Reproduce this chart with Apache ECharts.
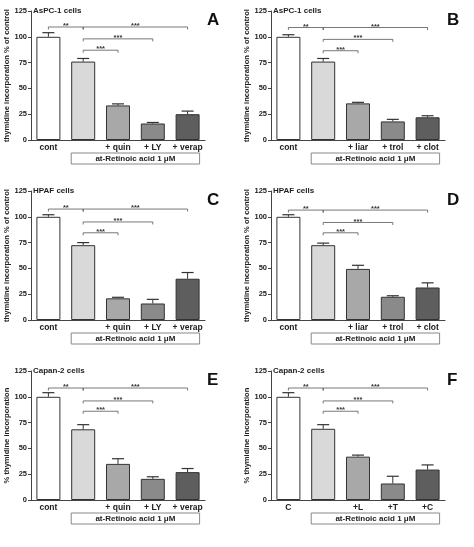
<!DOCTYPE html>
<html>
<head>
<meta charset="utf-8">
<script src="https://cdn.jsdelivr.net/npm/echarts@6/dist/echarts.min.js"></script>
<style>
  html, body { margin: 0; padding: 0; background: #fff; }
  #chart { width: 474px; height: 547px; }
</style>
</head>
<body>
<div id="chart"></div>
<script>
// categories
var catsLeft = ['cont', '', '+ quin', '+ LY', '+ verap'];
var catsRight = ['cont', '', '+ liar', '+ trol', '+ clot'];
var catsF = ['C', '', '+L', '+T', '+C'];
var yTicks = [0, 25, 50, 75, 100, 125];

// bar heights (% of control) and upper error (SEM)
var meanA = [100, 76, 33.5, 16, 25];
var errA = [4, 3, 1.5, 1, 3];
var meanB = [100, 76, 35.5, 18, 22];
var errB = [2, 3, 1, 2, 1.5];
var meanC = [100, 72.5, 21, 16, 40];
var errC = [2, 2.5, 1, 4, 6];
var meanD = [100, 72.5, 49.5, 22.5, 31.5];
var errD = [2, 2, 3.5, 1, 4.5];
var meanE = [100, 68.5, 35, 20.5, 27];
var errE = [4, 4.5, 5, 2, 3.5];
var meanF = [100, 69, 42, 16, 29.5];
var errF = [4, 4, 1.5, 7, 4.5];

// heights of the significance brackets (top, middle, bottom)
var sigA = [109.5, 98, 87];
var sigB = [109, 97.5, 86.5];
var sigC = [107.5, 95, 84.5];
var sigD = [106.5, 94.5, 84.5];
var sigE = [108.5, 96, 86];
var sigF = [108.5, 96, 86];

// bracket pairs: from, to, level, stars
var pairFrom = [0, 1, 1, 1];
var pairTo = [1, 4, 3, 2];
var pairLevel = [0, 0, 1, 2];
var pairStars = ['**', '***', '***', '***'];

var barColors = ['#ffffff', '#d9d9d9', '#a8a8a8', '#8a8a8a', '#5e5e5e'];
var ylabCtrl = 'thymidine incorporation % of control';
var ylabPct = '% thymidine incorporation';
var boxText = 'at-Retinoic acid 1 \u03bcM';

var panels = [
  { cats: catsLeft, mean: meanA, err: errA, sig: sigA, cell: 'AsPC-1 cells', letter: 'A', ylab: ylabCtrl },
  { cats: catsRight, mean: meanB, err: errB, sig: sigB, cell: 'AsPC-1 cells', letter: 'B', ylab: ylabCtrl },
  { cats: catsLeft, mean: meanC, err: errC, sig: sigC, cell: 'HPAF cells', letter: 'C', ylab: ylabCtrl },
  { cats: catsRight, mean: meanD, err: errD, sig: sigD, cell: 'HPAF cells', letter: 'D', ylab: ylabCtrl },
  { cats: catsLeft, mean: meanE, err: errE, sig: sigE, cell: 'Capan-2 cells', letter: 'E', ylab: ylabPct },
  { cats: catsF, mean: meanF, err: errF, sig: sigF, cell: 'Capan-2 cells', letter: 'F', ylab: ylabPct }
];

var gridLeft = [31, 271];
var gridTop = [11, 191, 371];
var gridW = 174, gridH = 129;
var FONT = '"Liberation Sans", Arial, sans-serif';
var ink = '#222';

var grids = [], xAxes = [], yAxes = [], series = [], titles = [];

panels.forEach(function (p, i) {
  var col = i % 2, row = Math.floor(i / 2);
  var left = gridLeft[col], top = gridTop[row];
  grids.push({ left: left, top: top, width: gridW, height: gridH });

  xAxes.push({
    type: 'category', gridIndex: i, data: p.cats,
    axisLine: { lineStyle: { color: '#444', width: 1 } },
    axisTick: { show: false },
    axisLabel: { interval: 0, margin: 3, fontSize: 8.5, fontWeight: 'bold', color: ink, fontFamily: FONT }
  });
  yAxes.push({
    type: 'value', gridIndex: i, min: yTicks[0], max: yTicks[yTicks.length - 1], interval: 25,
    splitLine: { show: false },
    axisLine: { show: true, lineStyle: { color: '#444', width: 1 } },
    axisTick: { show: true, length: 3, lineStyle: { color: '#444' } },
    axisLabel: { margin: 4, fontSize: 7.5, fontWeight: 'bold', color: ink, fontFamily: FONT },
    name: p.ylab, nameLocation: 'middle', nameGap: 20,
    nameTextStyle: { fontSize: 7.6, fontWeight: 'bold', color: ink, fontFamily: FONT }
  });

  titles.push({
    text: p.cell, left: left + 2, top: top - 4, padding: 0,
    textStyle: { fontSize: 8, fontWeight: 'bold', color: ink, fontFamily: FONT }
  });
  titles.push({
    text: p.letter, left: left + 176, top: top + 1, padding: 0,
    textStyle: { fontSize: 17, fontWeight: 'bold', color: '#111', fontFamily: FONT }
  });

  series.push({
    type: 'bar', xAxisIndex: i, yAxisIndex: i, barWidth: 24,
    data: p.mean.map(function (v, k) {
      return { value: v, itemStyle: { color: barColors[k], borderColor: '#333', borderWidth: 1 } };
    }),
    silent: true, z: 2
  });

  series.push({
    type: 'custom', xAxisIndex: i, yAxisIndex: i, z: 3, silent: true,
    data: p.mean.map(function (v, k) { return [k, v, p.err[k]]; }),
    renderItem: function (params, api) {
      var k = api.value(0), m = api.value(1), e = api.value(2);
      var base = api.coord([k, m]);
      var tip = api.coord([k, m + e]);
      return {
        type: 'group', children: [
          { type: 'line', shape: { x1: base[0], y1: base[1], x2: tip[0], y2: tip[1] }, style: { stroke: '#333', lineWidth: 1 } },
          { type: 'line', shape: { x1: tip[0] - 6, y1: tip[1], x2: tip[0] + 6, y2: tip[1] }, style: { stroke: '#333', lineWidth: 1.2 } }
        ]
      };
    }
  });

  series.push({
    type: 'custom', xAxisIndex: i, yAxisIndex: i, z: 4, silent: true,
    data: pairFrom.map(function (f, k) { return [f, pairTo[k], p.sig[pairLevel[k]]]; }),
    renderItem: function (params, api) {
      var a = api.coord([api.value(0), api.value(2)]);
      var b = api.coord([api.value(1), api.value(2)]);
      return {
        type: 'group', children: [
          { type: 'polyline', shape: { points: [[a[0], a[1] + 2.5], [a[0], a[1]], [b[0], b[1]], [b[0], b[1] + 2.5]] },
            style: { stroke: '#555', lineWidth: 0.8, fill: null } },
          { type: 'text', style: { text: pairStars[params.dataIndex], x: (a[0] + b[0]) / 2, y: a[1] - 1,
            align: 'center', verticalAlign: 'middle', fill: '#333', font: 'bold 7.5px ' + FONT } }
        ]
      };
    }
  });

  series.push({
    type: 'custom', xAxisIndex: i, yAxisIndex: i, z: 4, silent: true, clip: false,
    data: [[1, 4]],
    renderItem: function (params, api) {
      var l = api.coord([api.value(0), 0]);
      var r = api.coord([api.value(1), 0]);
      var x0 = l[0] - 12, x1 = r[0] + 12;
      return {
        type: 'group', children: [
          { type: 'rect', shape: { x: x0, y: l[1] + 13, width: x1 - x0, height: 11 },
            style: { fill: '#fff', stroke: '#888', lineWidth: 1 } },
          { type: 'text', style: { text: boxText, x: (x0 + x1) / 2, y: l[1] + 18.5,
            align: 'center', verticalAlign: 'middle', fill: ink, font: 'bold 8px ' + FONT } }
        ]
      };
    }
  });
});

var chart = echarts.init(document.getElementById('chart'));
chart.setOption({
  animation: false,
  backgroundColor: '#fff',
  title: titles,
  grid: grids,
  xAxis: xAxes,
  yAxis: yAxes,
  series: series
});
</script>
</body>
</html>
